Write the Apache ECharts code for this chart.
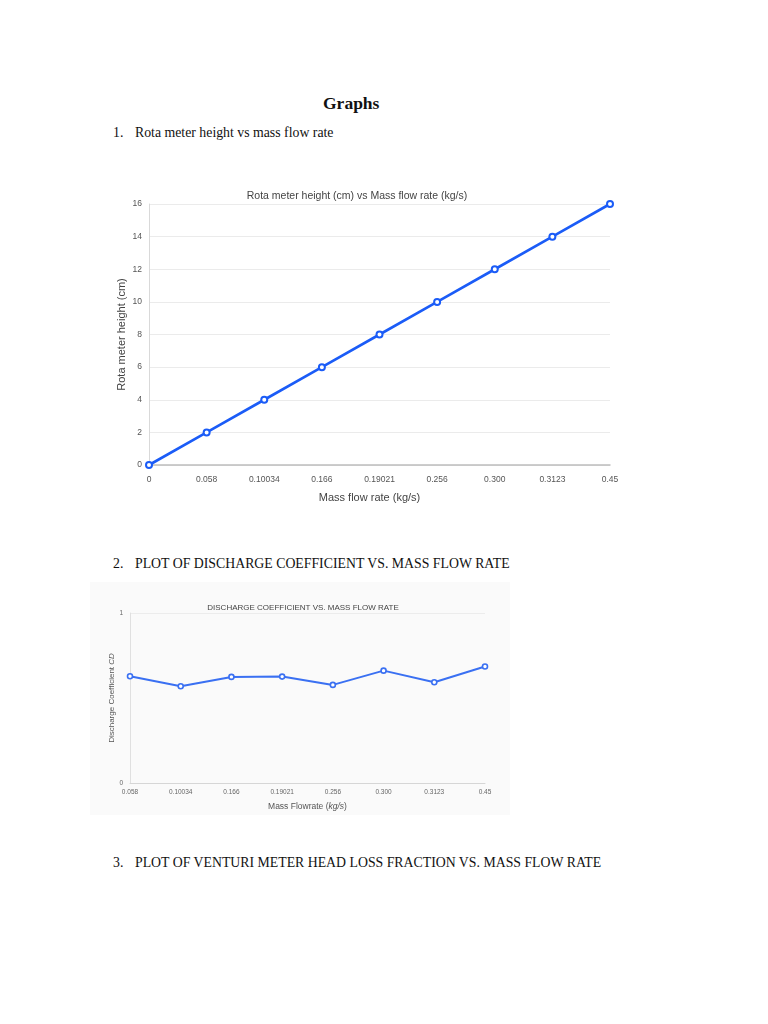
<!DOCTYPE html>
<html>
<head>
<meta charset="utf-8">
<script src="https://cdn.jsdelivr.net/npm/echarts@6/dist/echarts.min.js"></script>
<style>
  html, body { margin: 0; padding: 0; background: #fff; }
  body { width: 768px; height: 1024px; position: relative; overflow: hidden; font-family: "Liberation Serif", "Times New Roman", serif; color: #111; }
  .t { position: absolute; white-space: nowrap; line-height: 1; }
  .h { font-size: 13.8px; }
  #box2 { position: absolute; left: 90px; top: 582px; width: 420px; height: 233px; background: #fafafa; }
  #chart { position: absolute; left: 0; top: 0; width: 768px; height: 1024px; }
</style>
</head>
<body>
<div class="t" style="left:323px; top:95px; font-size:17.5px; font-weight:bold;">Graphs</div>
<div class="t h" style="left:113px; top:126px;">1.</div>
<div class="t h" style="left:135px; top:126px;">Rota meter height vs mass flow rate</div>
<div class="t h" style="left:113px; top:557px;">2.</div>
<div class="t h" style="left:135px; top:557px;">PLOT OF DISCHARGE COEFFICIENT VS. MASS FLOW RATE</div>
<div class="t h" style="left:113px; top:856px;">3.</div>
<div class="t h" style="left:135px; top:856px;">PLOT OF VENTURI METER HEAD LOSS FRACTION VS. MASS FLOW RATE</div>
<div id="box2"></div>
<div id="chart"></div>
<script>
// Chart 1: Rota meter height vs mass flow rate
const flowCats1 = ['0', '0.058', '0.10034', '0.166', '0.19021', '0.256', '0.300', '0.3123', '0.45'];
const rotaHeight = [0, 2, 4, 6, 8, 10, 12, 14, 16];
const yTicks1 = { min: 0, max: 16, interval: 2 };

// Chart 2: Discharge coefficient vs mass flow rate
const flowCats2 = ['0.058', '0.10034', '0.166', '0.19021', '0.256', '0.300', '0.3123', '0.45'];
const dischargeCd = [0.628, 0.569, 0.624, 0.626, 0.577, 0.661, 0.593, 0.685];
const yTicks2 = { min: 0, max: 1, interval: 1 };

const sans = '"Liberation Sans", Arial, sans-serif';
const blue1 = '#1b5cf7';
const blue2 = '#3a70f2';
const chart = echarts.init(document.getElementById('chart'), null, { renderer: 'canvas' });
chart.setOption({
  backgroundColor: 'transparent',
  animation: false,
  textStyle: { fontFamily: sans },
  title: [
    { text: 'Rota meter height (cm) vs Mass flow rate (kg/s)', left: 352, top: 186, textAlign: 'center',
      textStyle: { fontFamily: sans, fontSize: 10.5, fontWeight: 'normal', color: '#444' } },
    { text: 'DISCHARGE COEFFICIENT VS. MASS FLOW RATE', left: 298, top: 599, textAlign: 'center',
      textStyle: { fontFamily: sans, fontSize: 8, fontWeight: 'normal', color: '#444' } }
  ],
  grid: [
    { left: 149, right: 158, top: 204, bottom: 559 },
    { left: 130, right: 283, top: 613, bottom: 241 }
  ],
  xAxis: [
    { type: 'category', gridIndex: 0, data: flowCats1, boundaryGap: false,
      axisLine: { lineStyle: { color: '#bdbdbd', width: 1.5 } }, axisTick: { show: false },
      axisLabel: { interval: 0, color: '#555', fontSize: 8.5, margin: 10 },
      splitLine: { show: false },
      name: 'Mass flow rate (kg/s)', nameLocation: 'middle', nameGap: 27,
      nameTextStyle: { color: '#444', fontSize: 11, padding: [0, 20, 0, 0] } },
    { type: 'category', gridIndex: 1, data: flowCats2, boundaryGap: false,
      axisLine: { lineStyle: { color: '#d6d6d6', width: 1 } }, axisTick: { show: false },
      axisLabel: { interval: 0, color: '#666', fontSize: 6.5, margin: 6 },
      splitLine: { show: false },
      name: 'Mass Flowrate ({i|kg/s})', nameLocation: 'middle', nameGap: 19,
      nameTextStyle: { color: '#555', fontSize: 8.5,
        rich: { i: { fontStyle: 'italic', fontSize: 8.5, color: '#555', fontFamily: sans } } } }
  ],
  yAxis: [
    { type: 'value', gridIndex: 0, min: yTicks1.min, max: yTicks1.max, interval: yTicks1.interval,
      axisLine: { show: true, lineStyle: { color: '#d9d9d9' } }, axisTick: { show: false },
      axisLabel: { color: '#555', fontSize: 8.5, margin: 7 },
      splitLine: { lineStyle: { color: '#ebebeb' } },
      name: 'Rota meter height (cm)', nameLocation: 'middle', nameGap: 22, nameMoveOverlap: false,
      nameTextStyle: { color: '#444', fontSize: 11 } },
    { type: 'value', gridIndex: 1, min: yTicks2.min, max: yTicks2.max, interval: yTicks2.interval,
      axisLine: { show: true, lineStyle: { color: '#e0e0e0' } }, axisTick: { show: false },
      axisLabel: { color: '#666', fontSize: 6.5, margin: 7 },
      splitLine: { lineStyle: { color: '#ececec' } },
      name: 'Discharge Coefficient {i|CD}', nameLocation: 'middle', nameGap: 13,
      nameTextStyle: { color: '#555', fontSize: 8,
        rich: { i: { fontStyle: 'italic', fontSize: 8, color: '#555', fontFamily: sans } } } }
  ],
  series: [
    { type: 'line', xAxisIndex: 0, yAxisIndex: 0, data: rotaHeight,
      symbol: 'circle', symbolSize: 6,
      lineStyle: { width: 2.6, color: blue1 },
      itemStyle: { color: '#fff', borderWidth: 2, borderColor: blue1 } },
    { type: 'line', xAxisIndex: 1, yAxisIndex: 1, data: dischargeCd,
      symbol: 'circle', symbolSize: 5,
      lineStyle: { width: 2, color: blue2 },
      itemStyle: { color: '#fff', borderWidth: 1.6, borderColor: blue2 } }
  ]
});
</script>
</body>
</html>
